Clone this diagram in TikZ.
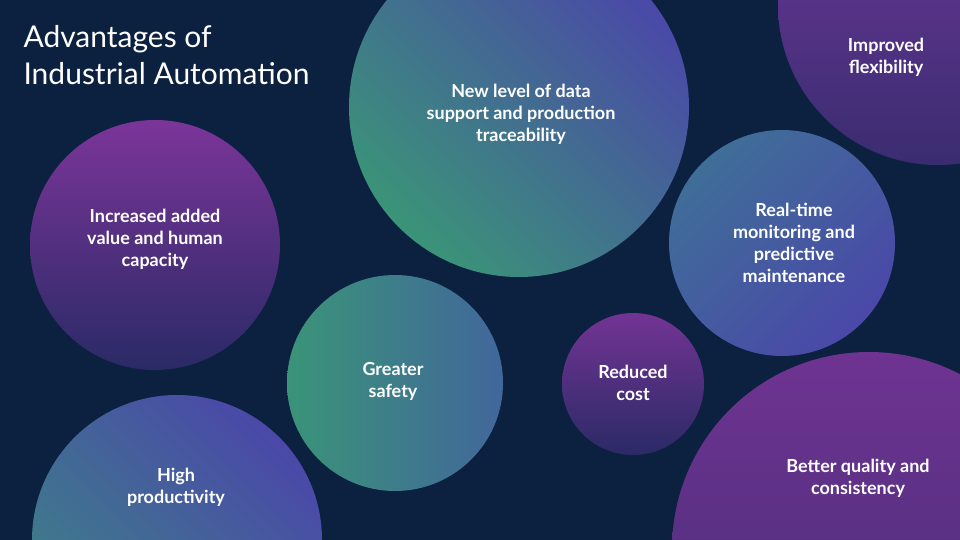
\documentclass[tikz,border=0pt]{standalone}
\usepackage{fontspec}
\setmainfont{Lato}
\definecolor{bgnavy}{HTML}{0C2140}
\definecolor{cpurple}{HTML}{7B3599}
\definecolor{cdeep}{HTML}{2A2A66}
\definecolor{cblue}{HTML}{4A48A8}
\definecolor{cgreen}{HTML}{3A9478}
\definecolor{cteal}{HTML}{3F6E98}
\begin{document}
\begin{tikzpicture}[x=1pt,y=-1pt]

\tikzstyle{label}=[text=white,font=\bfseries\fontsize{18}{22}\selectfont,align=center]
\tikzstyle{bubble}=[draw=none]

\fill[bgnavy] (0,0) rectangle (960,540);
\useasboundingbox (0,0) rectangle (960,540);
\clip (0,0) rectangle (960,540);

% bubbles
\begin{scope}[shift={(519,107)},xscale=-1]
\shade[bubble,left color=cblue,right color=cgreen,shading angle=-45] (0,0) circle (170);
\end{scope}
\shade[bubble,top color=cpurple!80!cblue,bottom color=cdeep!80!cpurple] (938,5) circle (160);
\shade[bubble,top color=cpurple,bottom color=cdeep] (155,245) circle (125);
\shade[bubble,left color=cteal,right color=cblue,shading angle=45] (782,243) circle (113);
\shade[bubble,left color=cgreen,right color=cteal!80!cblue] (395,383) circle (108);
\shade[bubble,top color=cpurple!90!cdeep,bottom color=cdeep] (633,384) circle (71);
\begin{scope}[shift={(177,540)},xscale=-1]
\shade[bubble,left color=cblue,right color=cteal!50!cgreen,shading angle=-45] (0,0) circle (145);
\end{scope}
\shade[bubble,top color=cpurple!85!cdeep,bottom color=cdeep!70!cpurple] (869,549) circle (197);

% texts
\node[text=white,font=\fontsize{30}{37}\selectfont,align=left,anchor=north west] (title) at (20,22) {Advantages of\\Industrial Automation};
\node[label] (data) at (521,114) {New level of data\\support and production\\traceability};
\node[label] (flex) at (886,57) {Improved\\flexibility};
\node[label] (value) at (155,239) {Increased added\\value and human\\capacity};
\node[label] (monitor) at (794,243) {Real-time\\monitoring and\\predictive\\maintenance};
\node[label] (safety) at (393,381) {Greater\\safety};
\node[label] (cost) at (633,383) {Reduced\\cost};
\node[label] (prod) at (176,487) {High\\productivity};
\node[label] (quality) at (858,478) {Better quality and\\consistency};
\end{tikzpicture}
\end{document}
